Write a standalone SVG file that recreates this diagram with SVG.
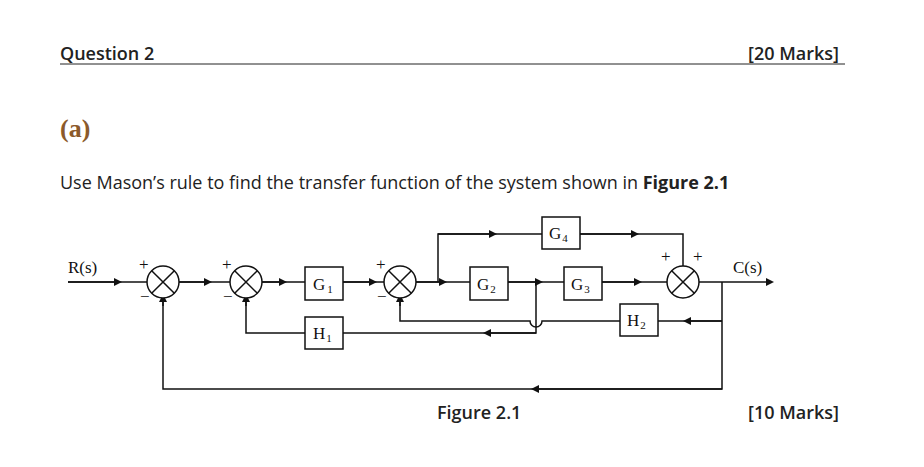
<svg xmlns="http://www.w3.org/2000/svg" width="924" height="467" viewBox="0 0 924 467">
<style>
.t{font-family:"Open Sans","Liberation Sans",sans-serif;font-size:18px;fill:#222}
.b{font-weight:bold}
.h{font-weight:600}
.s{font-family:"Liberation Serif",serif;font-size:17px;fill:#111}
.sub{font-size:11px}
.w{fill:none;stroke:#111;stroke-width:1.5}
.box{fill:#fff;stroke:#111;stroke-width:1.5}
</style>
<defs>
<marker id="a" viewBox="0 0 10 10" refX="5" refY="5" markerWidth="10" markerHeight="8" orient="auto" markerUnits="userSpaceOnUse"><path d="M0,0L10,5L0,10z" fill="#111"/></marker>
</defs>
<rect width="924" height="467" fill="#fff"/>
<text class="t h" x="60" y="60" font-size="17">Question 2</text>
<text class="t h" x="748" y="60" font-size="17">[20 Marks]</text>
<line x1="60" y1="64" x2="845" y2="64" stroke="#222" stroke-width="1"/>
<text x="60" y="137" font-family="Liberation Serif,serif" font-size="26" font-weight="bold" fill="#8b5a2b">(a)</text>
<text class="t" x="60" y="189">Use Mason’s rule to find the transfer function of the system shown in <tspan class="b">Figure 2.1</tspan></text>
<text class="t h" x="437" y="419" font-size="17">Figure 2.1</text>
<text class="t h" x="748" y="419" font-size="17">[10 Marks]</text>

<g id="connectors" class="w">
<path d="M68,282H147" /><path d="M68,282H118" marker-end="url(#a)"/>
<path d="M179,282H230"/><path d="M179,282H208" marker-end="url(#a)"/>
<path d="M262,282H305"/><path d="M262,282H283" marker-end="url(#a)"/>
<path d="M343,282H384"/><path d="M343,282H373" marker-end="url(#a)"/>
<path d="M416,282H470"/><path d="M416,282H443" marker-end="url(#a)"/>
<path d="M438,282V234H542"/><path d="M438,234H493" marker-end="url(#a)"/>
<path d="M580,234H683V266"/><path d="M580,234H635" marker-end="url(#a)"/>
<path d="M508,282H564"/><path d="M508,282H539" marker-end="url(#a)"/>
<path d="M602,282H667"/><path d="M602,282H638" marker-end="url(#a)"/>
<path d="M699,282H770" marker-end="url(#a)"/>
<path d="M722,282V389H163V298"/><path d="M722,389H535" marker-end="url(#a)"/>
<path d="M163,306V298" marker-end="url(#a)"/>
<path d="M722,321H658"/><path d="M722,321H687" marker-end="url(#a)"/>
<path d="M620,321H542A6,6 0 0 1 530,321H400V298"/>
<path d="M400,306V298" marker-end="url(#a)"/>
<path d="M536,282V333H343"/><path d="M536,333H487" marker-end="url(#a)"/>
<path d="M305,333H246V298"/>
<path d="M246,306V298" marker-end="url(#a)"/>
</g>

<g id="R"><text class="s" x="68" y="273">R(s)</text></g>
<g id="C"><text class="s" x="733" y="273">C(s)</text></g>

<g id="sum1"><circle class="box" cx="163" cy="282" r="16"/><path class="w" d="M151.7,270.7L174.3,293.3M174.3,270.7L151.7,293.3"/><text class="s" x="139" y="270" font-size="13">+</text><text class="s" x="140" y="302" font-size="13">−</text></g>
<g id="sum2"><circle class="box" cx="246" cy="282" r="16"/><path class="w" d="M234.7,270.7L257.3,293.3M257.3,270.7L234.7,293.3"/><text class="s" x="222" y="270" font-size="13">+</text><text class="s" x="223" y="302" font-size="13">−</text></g>
<g id="sum3"><circle class="box" cx="400" cy="282" r="16"/><path class="w" d="M388.7,270.7L411.3,293.3M411.3,270.7L388.7,293.3"/><text class="s" x="376" y="270" font-size="13">+</text><text class="s" x="377" y="302" font-size="13">−</text></g>
<g id="sum4"><circle class="box" cx="683" cy="282" r="16"/><path class="w" d="M671.7,270.7L694.3,293.3M694.3,270.7L671.7,293.3"/><text class="s" x="661" y="262" font-size="13">+</text><text class="s" x="693" y="262" font-size="13">+</text></g>

<g id="G1"><rect class="box" x="305" y="267" width="38" height="33"/><text class="s" x="313" y="290">G<tspan class="sub" dx="2" dy="3">1</tspan></text></g>
<g id="G2"><rect class="box" x="470" y="267" width="38" height="33"/><text class="s" x="477" y="290">G<tspan class="sub" dx="1" dy="3">2</tspan></text></g>
<g id="G3"><rect class="box" x="564" y="267" width="38" height="33"/><text class="s" x="571" y="290">G<tspan class="sub" dx="1" dy="3">3</tspan></text></g>
<g id="G4"><rect class="box" x="542" y="217" width="38" height="32"/><text class="s" x="549" y="239">G<tspan class="sub" dx="1" dy="3">4</tspan></text></g>
<g id="H1"><rect class="box" x="305" y="317" width="38" height="32"/><text class="s" x="313" y="339">H<tspan class="sub" dx="1" dy="3">1</tspan></text></g>
<g id="H2"><rect class="box" x="620" y="304" width="38" height="32"/><text class="s" x="627" y="326">H<tspan class="sub" dx="1" dy="3">2</tspan></text></g>
</svg>
